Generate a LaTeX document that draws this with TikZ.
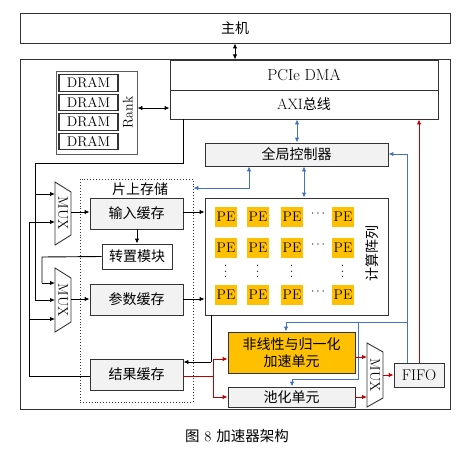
\documentclass[tikz,border=0pt]{standalone}
\usepackage{fontspec}
\newfontfamily\cjk{Noto Sans CJK SC}
\usetikzlibrary{arrows.meta}
\definecolor{myblue}{HTML}{4472C4}
\definecolor{myred}{HTML}{C00000}
\definecolor{myorange}{HTML}{FFC000}
\definecolor{mygray}{HTML}{F2F2F2}
\definecolor{edge}{HTML}{333333}
\begin{document}
\begin{tikzpicture}[x=1pt,y=-1pt,
  font=\fontsize{14}{16}\selectfont,
  box/.style={draw=edge,line width=0.9pt,inner sep=0pt},
  gbox/.style={box,fill=mygray},
  zh/.style={font=\fontsize{14}{17}\selectfont\cjk},
  pe/.style={fill=myorange,inner sep=0pt,minimum width=22pt,minimum height=20pt},
  dram/.style={box,line width=1.2pt,minimum width=59pt,minimum height=16.5pt},
  arr/.style={-{Latex[length=5pt,width=4.5pt]},line width=0.9pt,draw=black},
  darr/.style={{Latex[length=5pt,width=4.5pt]}-{Latex[length=5pt,width=4.5pt]},line width=0.9pt},
  barr/.style={-{Latex[length=5pt,width=4.5pt]},line width=0.9pt,draw=myblue},
  bdarr/.style={{Latex[length=5pt,width=4.5pt]}-{Latex[length=5pt,width=4.5pt]},line width=0.9pt,draw=myblue},
  bline/.style={line width=0.9pt,draw=myblue},
  rarr/.style={-{Latex[length=5pt,width=4.5pt]},line width=0.9pt,draw=myred},
  rline/.style={line width=0.9pt,draw=myred},
  mux/.style={draw=edge,line width=0.9pt,fill=white},
  muxt/.style={rotate=-90,inner sep=0pt},
  dots/.style={inner sep=0pt,font=\fontsize{12}{12}\selectfont}]
\useasboundingbox (0,0) rectangle (474,452);

% host and board
\node[box,minimum width=430pt,minimum height=30pt,zh] (host) at (235,28) {主机};
\node[box,line width=1pt,minimum width=430pt,minimum height=349pt] (board) at (235,234.5) {};
\node[box,minimum width=268pt,minimum height=30pt,font=\fontsize{16}{18}\selectfont] (pcie) at (304,75) {PCIe DMA};
\node[box,minimum width=268pt,minimum height=29pt,font=\fontsize{15}{17}\selectfont] (axi) at (304,104.5) {AXI{\cjk\fontsize{14}{17}\selectfont 总线}};
\draw[darr] (host.south) -- (host.south |- board.north);

% rank
\node[box,draw=edge!80,minimum width=81pt,minimum height=83pt] (rank) at (96.5,112.5) {};
\node[dram] (d1) at (88.5,83) {DRAM};
\node[dram] (d2) at (88.5,102.5) {DRAM};
\node[dram] (d3) at (88.5,122) {DRAM};
\node[dram] (d4) at (88.5,141.5) {DRAM};
\node[rotate=90,inner sep=0pt] (ranklbl) at (128,112.5) {Rank};
\draw[darr] (rank.east |- 0,108) -- (axi.west |- 0,108);

% on-chip storage
\node[draw=edge,dotted,line width=0.9pt,minimum width=113pt,minimum height=223pt] (onchip) at (136.5,290.5) {};
\node[zh,inner sep=0pt] (onchipt) at (140,189) {片上存储};
\node[gbox,minimum width=93pt,minimum height=31pt,zh] (inbuf) at (136.5,213.5) {输入缓存};
\node[box,fill=white,minimum width=70pt,minimum height=25pt,zh] (trans) at (137,256.5) {转置模块};
\node[gbox,minimum width=93pt,minimum height=31pt,zh] (parbuf) at (136.5,299.5) {参数缓存};
\node[gbox,minimum width=93pt,minimum height=31pt,zh] (resbuf) at (136.5,374.5) {结果缓存};

% MUXes
\draw[mux] (55,182) -- (71,192) -- (71,235) -- (55,245) -- cycle;
\node[muxt] (mux1) at (63,213.5) {MUX};
\draw[mux] (55,268) -- (71,278) -- (71,322) -- (55,332) -- cycle;
\node[muxt] (mux2) at (63,300) {MUX};
\draw[mux] (367,343) -- (383,352) -- (383,398) -- (367,407) -- cycle;
\node[muxt] (mux3) at (375,375) {MUX};

\coordinate (m1a) at (55,194);
\coordinate (m1b) at (55,222);
\coordinate (m1o) at (71,212);
\coordinate (m2a) at (55,283);
\coordinate (m2b) at (55,300);
\coordinate (m2c) at (55,319);
\coordinate (m2o) at (71,299);
\coordinate (m3a) at (367,357);
\coordinate (m3b) at (367,397);
\coordinate (m3o) at (383,375);

% controller and PE array
\node[gbox,minimum width=183pt,minimum height=23pt,zh] (ctrl) at (296.5,154.5) {全局控制器};
\node[box,fill=white,minimum width=183pt,minimum height=117pt] (pea) at (296.5,256.5) {};
\foreach \r/\y in {1/217,2/248,4/295}{
  \foreach \c/\x in {1/226,2/258,3/292,5/343}{
    \node[pe] (pe\r\c) at (\x,\y) {PE};
  }
  \node[dots] (cd\r) at (318,\y-3) {$\cdots$};
}
\foreach \c/\x in {1/226,2/258,3/292,5/343}{
  \node[dots,rotate=90] (vd\c) at (\x,271.5) {$\cdots$};
}
\node[zh,rotate=90,inner sep=0pt] (pelbl) at (372,253) {计算阵列};

% nonlinear, pooling, FIFO
\node[box,fill=myorange,minimum width=127pt,minimum height=41pt,zh,align=center] (nl) at (291.5,352.5) {非线性与归一化\\加速单元};
\node[gbox,minimum width=127pt,minimum height=20pt,zh] (pool) at (291.5,397) {池化单元};
\node[gbox,minimum width=50pt,minimum height=24pt,font=\fontsize{15.5}{17}\selectfont] (fifo) at (419,375) {FIFO};

% black connections
\draw[line width=0.9pt] (axi.south -| 183,0) -- (183,163) -- (35,163) -- (35,300);
\draw[arr] (35,194) -- (m1a);
\draw[arr] (35,300) -- (m2b);
\draw[line width=0.9pt] (trans.west) -- (42,257) -- (42,283);
\draw[arr] (42,283) -- (m2a);
\draw[line width=0.9pt] (resbuf.west |- 0,376) -- (29,376) -- (29,222);
\draw[arr] (29,222) -- (m1b);
\draw[arr] (29,319) -- (m2c);
\draw[arr] (m1o) -- (inbuf.west |- m1o);
\draw[arr] (m2o) -- (parbuf.west |- m2o);
\draw[arr] (inbuf.south -| 137,0) -- (trans.north -| 137,0);
\draw[arr] (inbuf.east |- 0,212) -- (pea.west |- 0,212);
\draw[arr] (parbuf.east |- 0,299) -- (pea.west |- 0,299);
\draw[line width=0.9pt] (pea.south -| 211,0) -- (211,362);
\draw[arr] (211,362) -- (resbuf.east |- 0,362);

% blue connections
\draw[bdarr] (axi.south -| 297,0) -- (ctrl.north -| 297,0);
\draw[bdarr] (ctrl.south -| 304,0) -- (pea.north -| 304,0);
\draw[bdarr] (ctrl.south -| 249,0) -- (249,188) -- (onchip.east |- 0,188);
\draw[bline] (fifo.north -| 407,0) -- (407,154);
\draw[barr] (407,154) -- (ctrl.east |- 0,154);
\draw[bline] (407,322) -- (286,322);
\draw[barr] (286,322) -- (nl.north -| 286,0);
\draw[bline] (358,322) -- (358,379) -- (292,379);
\draw[barr] (292,379) -- (pool.north -| 292,0);

% red connections
\draw[rline,line width=0.7pt] (resbuf.east |- 0,376) -- (213,376);
\draw[rline] (213,359) -- (213,397);
\draw[rarr] (213,359) -- (nl.west |- 0,359);
\draw[rarr] (213,397) -- (pool.west |- 0,397);
\draw[rarr] (nl.east |- m3a) -- (m3a);
\draw[rarr] (pool.east |- m3b) -- (m3b);
\draw[rarr] (m3o) -- (fifo.west |- m3o);
\draw[rarr] (fifo.north -| 419,0) -- (axi.south -| 419,0);

% caption
\node[inner sep=0pt,font=\fontsize{14.5}{17}\selectfont] (cap) at (237,436) {{\cjk 图} 8 {\cjk 加速器架构}};
\end{tikzpicture}
\end{document}
